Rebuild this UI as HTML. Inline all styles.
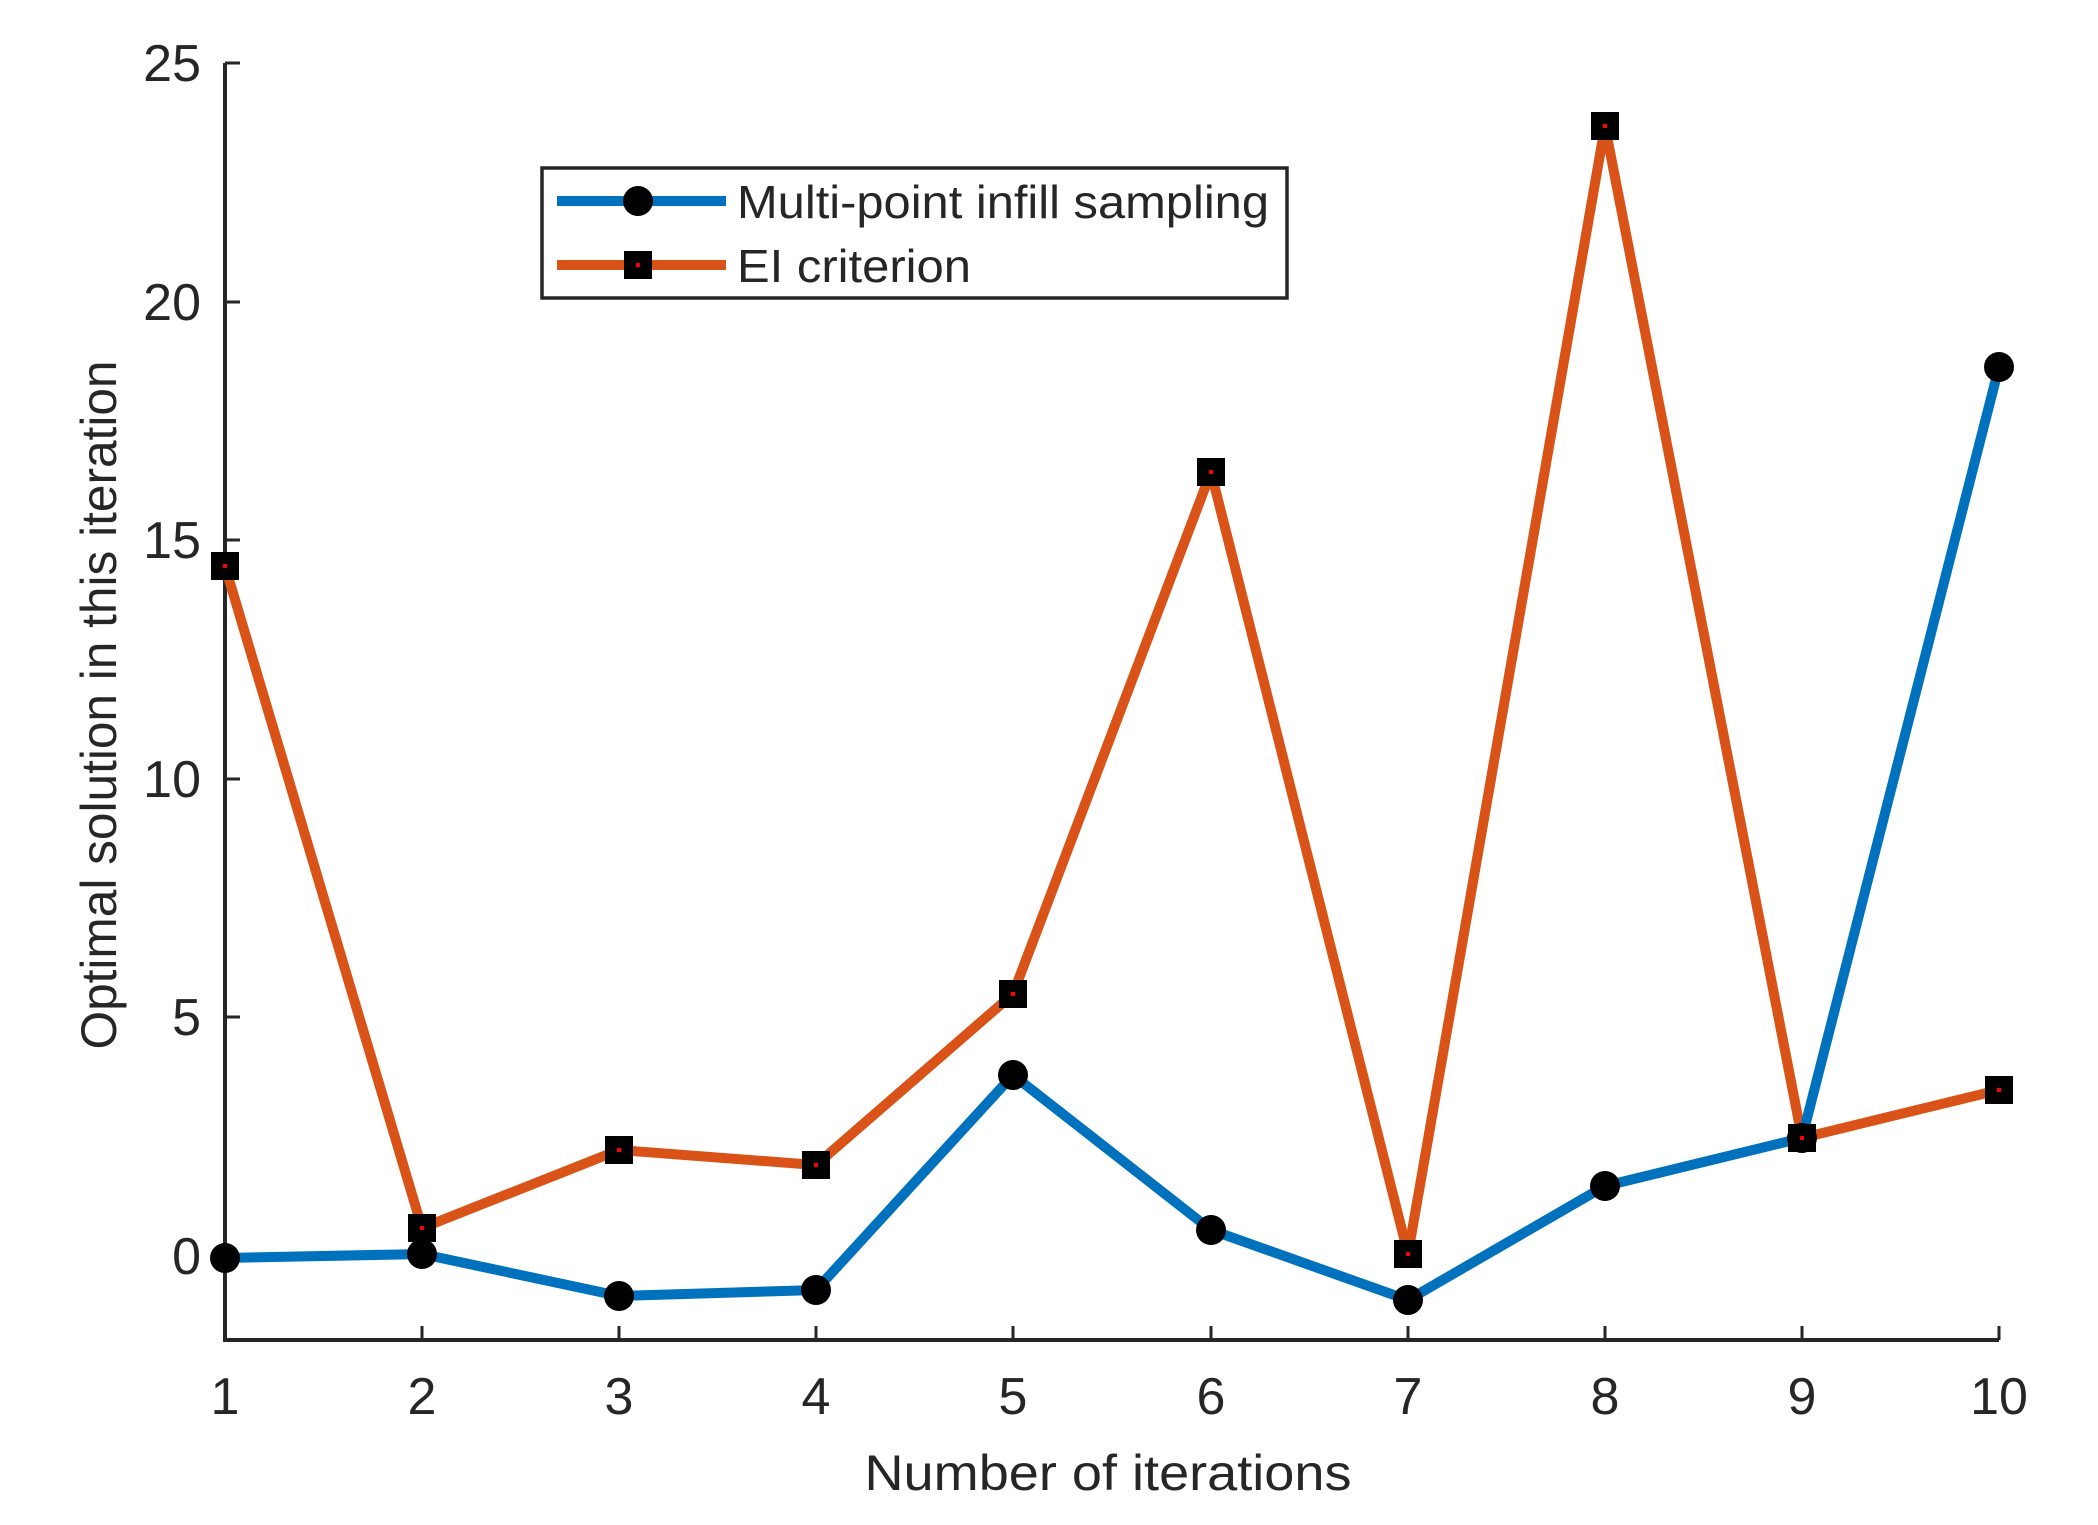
<!DOCTYPE html>
<html><head><meta charset="utf-8"><style>html,body{margin:0;padding:0;background:#fff}</style></head>
<body>
<svg width="2098" height="1520" xmlns="http://www.w3.org/2000/svg" font-family="Liberation Sans, Arial, sans-serif" fill="#262626">
<rect width="2098" height="1520" fill="#fff"/>
<!-- axes -->
<path d="M225,63 V1340 H1999" fill="none" stroke="#262626" stroke-width="4"/>
<g stroke="#262626" stroke-width="3">
<line x1="225" y1="63" x2="240" y2="63"/><line x1="225" y1="302" x2="240" y2="302"/>
<line x1="225" y1="540" x2="240" y2="540"/><line x1="225" y1="779" x2="240" y2="779"/>
<line x1="225" y1="1017" x2="240" y2="1017"/><line x1="225" y1="1256" x2="240" y2="1256"/>
<line x1="422" y1="1340" x2="422" y2="1326"/><line x1="619" y1="1340" x2="619" y2="1326"/>
<line x1="816" y1="1340" x2="816" y2="1326"/><line x1="1013" y1="1340" x2="1013" y2="1326"/>
<line x1="1211" y1="1340" x2="1211" y2="1326"/><line x1="1408" y1="1340" x2="1408" y2="1326"/>
<line x1="1605" y1="1340" x2="1605" y2="1326"/><line x1="1802" y1="1340" x2="1802" y2="1326"/>
<line x1="1999" y1="1340" x2="1999" y2="1326"/>
</g>
<g font-size="52" text-anchor="end">
<text x="201" y="81">25</text><text x="201" y="320">20</text><text x="201" y="558">15</text>
<text x="201" y="797">10</text><text x="201" y="1035">5</text><text x="201" y="1274">0</text>
</g>
<g font-size="52" text-anchor="middle">
<text x="225" y="1414">1</text><text x="422" y="1414">2</text><text x="619" y="1414">3</text>
<text x="816" y="1414">4</text><text x="1013" y="1414">5</text><text x="1211" y="1414">6</text>
<text x="1408" y="1414">7</text><text x="1605" y="1414">8</text><text x="1802" y="1414">9</text>
<text x="1999" y="1414">10</text>
</g>
<text x="1108" y="1490" font-size="50" text-anchor="middle" textLength="487" lengthAdjust="spacingAndGlyphs">Number of iterations</text>
<text transform="translate(116,705) rotate(-90)" font-size="50" text-anchor="middle" textLength="689" lengthAdjust="spacingAndGlyphs">Optimal solution in this iteration</text>
<!-- series -->
<polyline fill="none" stroke="#D95319" stroke-width="10" stroke-linejoin="round" points="225,566 422,1228 619,1150 816,1165 1013,994 1211,472 1408,1254 1605,126 1802,1138 1999,1090"/>
<polyline fill="none" stroke="#0072BD" stroke-width="10" stroke-linejoin="round" points="225,1258 422,1254 619,1296 816,1290 1013,1075 1211,1230 1408,1300 1605,1186 1802,1138 1999,367"/>
<g fill="#000">
<circle cx="225" cy="1258" r="15"/><circle cx="422" cy="1254" r="15"/><circle cx="619" cy="1296" r="15"/>
<circle cx="816" cy="1290" r="15"/><circle cx="1013" cy="1075" r="15"/><circle cx="1211" cy="1230" r="15"/>
<circle cx="1408" cy="1300" r="15"/><circle cx="1605" cy="1186" r="15"/><circle cx="1802" cy="1138" r="15"/>
<circle cx="1999" cy="367" r="15"/>
</g>
<g fill="#000">
<rect x="211" y="552" width="28" height="28"/><rect x="408" y="1214" width="28" height="28"/>
<rect x="605" y="1136" width="28" height="28"/><rect x="802" y="1151" width="28" height="28"/>
<rect x="999" y="980" width="28" height="28"/><rect x="1197" y="458" width="28" height="28"/>
<rect x="1394" y="1240" width="28" height="28"/><rect x="1591" y="112" width="28" height="28"/>
<rect x="1788" y="1124" width="28" height="28"/><rect x="1985" y="1076" width="28" height="28"/>
</g>
<g fill="#f00">
<rect x="223" y="564" width="4" height="4"/><rect x="420" y="1226" width="4" height="4"/>
<rect x="617" y="1148" width="4" height="4"/><rect x="814" y="1163" width="4" height="4"/>
<rect x="1011" y="992" width="4" height="4"/><rect x="1209" y="470" width="4" height="4"/>
<rect x="1406" y="1252" width="4" height="4"/><rect x="1603" y="124" width="4" height="4"/>
<rect x="1800" y="1136" width="4" height="4"/><rect x="1997" y="1088" width="4" height="4"/>
</g>
<!-- legend -->
<rect x="542" y="168" width="745" height="130" fill="#fff" stroke="#262626" stroke-width="3.5"/>
<line x1="557" y1="201" x2="726" y2="201" stroke="#0072BD" stroke-width="10"/>
<circle cx="638" cy="201" r="15" fill="#000"/>
<line x1="557" y1="265" x2="726" y2="265" stroke="#D95319" stroke-width="10"/>
<rect x="624" y="251" width="28" height="28" fill="#000"/><rect x="636" y="263" width="4" height="4" fill="#f00"/>
<text x="737" y="218" font-size="46" textLength="532" lengthAdjust="spacingAndGlyphs">Multi-point infill sampling</text>
<text x="737" y="282" font-size="46" textLength="234" lengthAdjust="spacingAndGlyphs">EI criterion</text>
</svg>
</body></html>
